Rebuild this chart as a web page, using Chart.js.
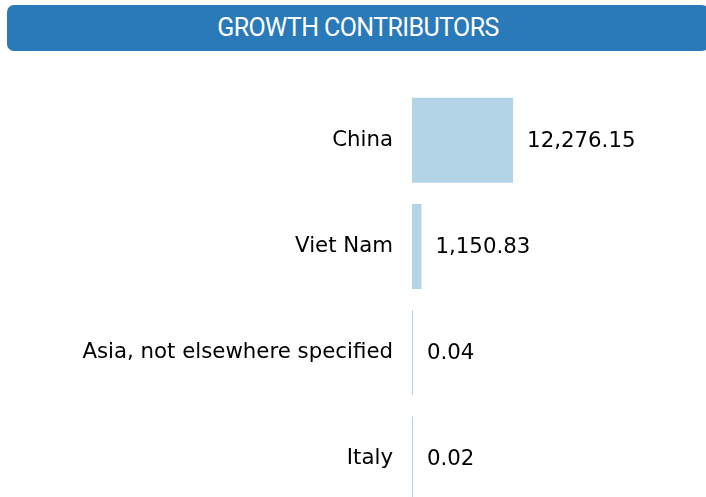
<!DOCTYPE html>
<html>
<head>
<meta charset="utf-8">
<script src="https://cdn.jsdelivr.net/npm/chart.js@4"></script>
<style>
  html, body { margin: 0; padding: 0; width: 706px; height: 497px; overflow: hidden; background: #fff; }
  .header {
    position: absolute; left: 7px; top: 5px; width: 702px; height: 46px;
    background: #2a7ab9; border-radius: 7px; color: #fff;
    font-family: Roboto, sans-serif; font-size: 25px; line-height: 46px;
    text-align: center; letter-spacing: -0.6px;
  }
  #c { position: absolute; left: 0; top: 87px; }
</style>
</head>
<body>
<div class="header">GROWTH CONTRIBUTORS</div>
<canvas id="c" width="706" height="425"></canvas>
<script>
const categories = ["China", "Viet Nam", "Asia, not elsewhere specified", "Italy"];
const values = [12276.15, 1150.83, 0.04, 0.02];
const valueLabels = ["12,276.15", "1,150.83", "0.04", "0.02"];

const barColor = "#b3d3e6";
const textColor = "#000";
const fontFamily = "'DejaVu Sans', sans-serif";
const fontSize = 21.3;

// Writes each bar's value just past its end
const valueLabelPlugin = {
  id: "valueLabels",
  afterDatasetsDraw(chart) {
    const ctx = chart.ctx;
    const meta = chart.getDatasetMeta(0);
    ctx.save();
    ctx.font = fontSize + "px " + fontFamily;
    ctx.fillStyle = textColor;
    ctx.textAlign = "left";
    ctx.textBaseline = "middle";
    meta.data.forEach((bar, i) => {
      ctx.fillText(valueLabels[i], bar.x + 14, bar.y + 1);
    });
    ctx.restore();
  }
};

new Chart(document.getElementById("c"), {
  type: "bar",
  data: {
    labels: categories,
    datasets: [{
      data: values,
      backgroundColor: barColor,
      borderWidth: 0,
      minBarLength: 1,
      barPercentage: 1,
      categoryPercentage: 0.8
    }]
  },
  options: {
    indexAxis: "y",
    responsive: false,
    animation: false,
    layout: { padding: 0 },
    plugins: { legend: { display: false }, tooltip: { enabled: false } },
    scales: {
      x: { display: false, min: 0, max: 35700 },
      y: {
        grid: { display: false, drawTicks: false },
        border: { display: false },
        afterFit(scale) {
          // fixed label column; bands fill the full canvas height
          scale.width = 412;
          scale.paddingTop = 0;
          scale.paddingBottom = 0;
        },
        ticks: {
          padding: 19,
          color: textColor,
          font: { family: fontFamily, size: fontSize }
        }
      }
    }
  },
  plugins: [valueLabelPlugin]
});
</script>
</body>
</html>
